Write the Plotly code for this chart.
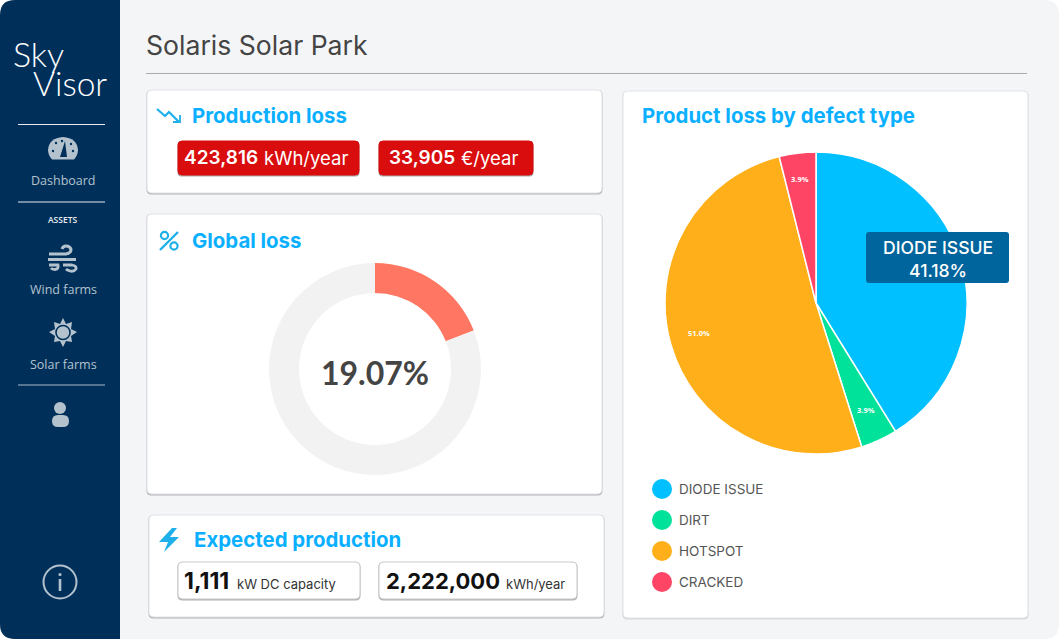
import plotly.graph_objects as go

W, H = 1059, 639

defect_types = ["DIODE ISSUE", "DIRT", "HOTSPOT", "CRACKED"]
defect_values = [41.18, 3.92, 50.98, 3.92]
defect_colors = ["#00c0ff", "#00e19a", "#ffaf19", "#ff4565"]

global_loss = 19.07
loss_colors = ["#ff7762", "#f2f2f2"]

loss_kwh = "423,816"
loss_eur = "33,905"
capacity_kw = "1,111"
expected_kwh = "2,222,000"

NAVY = "#00305a"
ICON = "#b4c2ce"
BLUE = "#0ab0ff"
ICON_BLUE = "#1fb0ea"
UI = "Inter"

shapes = []
notes = []


def rrect_path(x0, y0, x1, y1, r):
    return (f"M{x0+r},{y0} L{x1-r},{y0} Q{x1},{y0} {x1},{y0+r} L{x1},{y1-r} Q{x1},{y1} {x1-r},{y1} "
            f"L{x0+r},{y1} Q{x0},{y1} {x0},{y1-r} L{x0},{y0+r} Q{x0},{y0} {x0+r},{y0} Z")


def path(d, fill=None, line=None, lw=0, layer="above"):
    shapes.append(dict(type="path", path=d, xref="x", yref="y", layer=layer,
                       fillcolor=fill or "rgba(0,0,0,0)",
                       line=dict(color=line or "rgba(0,0,0,0)", width=lw)))


def circle(cx, cy, r, fill=None, line=None, lw=0):
    shapes.append(dict(type="circle", xref="x", yref="y", x0=cx-r, x1=cx+r, y0=cy-r, y1=cy+r, layer="above",
                       fillcolor=fill or "rgba(0,0,0,0)",
                       line=dict(color=line or "rgba(0,0,0,0)", width=lw)))


def text(x, y, s, size, color="#444444", anchor="left", family=UI, weight=400):
    # annotations carry about 2px of padding, taken off here for left aligned text
    if anchor == "left":
        x -= 2
    notes.append(dict(x=x, y=y, xref="x", yref="y", text=s, showarrow=False, xanchor=anchor, yanchor="middle",
                      align="center", font=dict(family=family, size=size, color=color, weight=weight)))


def card(x0, y0, x1, y1, r=5, fill="white", border="#e2e3e6", shadow="#b3b5b8", layer="below"):
    path(rrect_path(x0-0.5, y0, x1+0.5, y1+1.5, r), fill=shadow, layer=layer)
    path(rrect_path(x0, y0, x1, y1, r), fill=fill, line=border, lw=1, layer=layer)


# page background and sidebar
path(rrect_path(0, 0, W, H, 15), fill="#f4f5f7", layer="below")
path(f"M15,0 L120,0 L120,{H} L15,{H} Q0,{H} 0,{H-15} L0,15 Q0,0 15,0 Z", fill=NAVY, layer="below")

# header
text(146, 44.5, "Solaris Solar Park", 26.6, "#444444")
path("M146,73.5 L1027,73.5", line="#a9abad", lw=1)

# cards
card(147, 90, 602, 193)
card(147, 214, 602, 494)
card(149, 515, 604, 617)
card(623, 91, 1028, 618, shadow="#d5d6d8")

# card headings
text(192, 115, "Production loss", 20.4, BLUE, weight=700)
text(192, 240, "Global loss", 20.4, BLUE, weight=700)
text(194, 539, "Expected production", 20.4, BLUE, weight=700)
text(642, 115, "Product loss by defect type", 20.4, BLUE, weight=700)

# red badges
card(178, 141, 359, 175, r=4, fill="#d90d0d", border="#d90d0d", shadow="#a9a9a9")
card(379, 141, 533, 175, r=4, fill="#d90d0d", border="#d90d0d", shadow="#a9a9a9")
text(184, 157.5, loss_kwh, 19, "white", weight=600)
text(264, 157.5, "kWh/year", 18.5, "white")
text(389, 157.5, loss_eur, 19, "white", weight=600)
text(461, 157.5, "€/year", 18.5, "white")

# white badges
card(178, 562, 360, 599, r=5, border="#c9cacc", shadow="#b0b1b3")
card(379, 562, 577, 599, r=5, border="#c9cacc", shadow="#b0b1b3")
text(184, 580.5, capacity_kw, 23, "#111111", weight=700)
text(237, 583.5, "kW DC capacity", 13, "#333333")
text(386, 580.5, expected_kwh, 22, "#111111", weight=700)
text(506, 583.5, "kWh/year", 13, "#333333")

# card icons
path("M157,109 L165,116 L169,112 L179,122", line=ICON_BLUE, lw=2.2)
path("M173,122 L180,122 L180,115", line=ICON_BLUE, lw=1.8)
path("M160,250 L178,232", line=ICON_BLUE, lw=2.4)
circle(164.5, 235.5, 3.6, line=ICON_BLUE, lw=2.2)
circle(174, 246, 3.6, line=ICON_BLUE, lw=2.2)
path("M172,528 L159,542 L168,542 L164,552 L179,537 L170,537 L177,528 Z", fill=ICON_BLUE)

# logo
text(13, 53, "Sky", 34, "white", family="Lato", weight=300)
text(33, 83, "Visor", 33.5, "white", family="Lato", weight=300)

# sidebar rules and labels
path("M18,124.5 L105,124.5", line="#e6ebef", lw=1)
path("M18,202 L105,202", line="#e6ebef", lw=1)
path("M18,385 L105,385", line="#a9b8c5", lw=1.2)
text(63, 180, "Dashboard", 12.5, ICON, "center", "Open Sans")
text(63, 219, "ASSETS", 8.5, "#e8edf1", "center", "Open Sans", 600)
text(63, 289, "Wind farms", 12.5, ICON, "center", "Open Sans")
text(63, 364, "Solar farms", 12.5, ICON, "center", "Open Sans")

# sidebar icons
path("M52,159.5 Q48,155 48,150 Q49,138 63,137 Q77,138 78,150 Q78,155 74,159.5 Z", fill=ICON)
path("M60,157 L65,141 L67,157 Z", fill=NAVY)
for cx, cy in [(53, 151), (56, 143), (73, 151), (71, 144), (62, 141)]:
    circle(cx, cy, 1.2, fill=NAVY)
path("M49,254 L66,254 Q71,253 71,249.5 Q70,246 66,246 Q63,246 62,249", line=ICON, lw=3)
path("M48,259.5 L76,259.5", line=ICON, lw=3)
path("M49,265 L58,265 Q59,269 55,269.5 Q52,269.5 51,268", line=ICON, lw=2.8)
path("M63,265 L72,265 Q77,266 76,269 Q74,272 70,271 Q67,270 66,269", line=ICON, lw=2.8)
path("M63,318 L66,324 L72,322 L71,329 L77,332 L71,336 L72,342 L66,341 L63,347 L60,341 L54,342 L55,336 L49,332 "
     "L55,329 L54,322 L60,324 Z", fill=ICON)
circle(63, 332.5, 7, fill=ICON, line=NAVY, lw=1.6)
circle(60, 408, 6, fill=ICON)
path(rrect_path(52, 415, 69, 427, 6), fill=ICON)
circle(60, 582, 16.5, line=ICON, lw=2)
circle(60, 574.5, 1.6, fill=ICON)
path("M60,579 L60,591", line=ICON, lw=2.6)

# tooltip over the diode slice
path(rrect_path(866, 232, 1009, 283, 3), fill="#00659c")
text(937.5, 258.5, f"{defect_types[0]}<br>{defect_values[0]:.2f}%", 17.6, "white", "center", weight=500)

# slice labels sit where the original has them, not where plotly would put them
label_x = [None, 866, 699, 800]
label_y = [None, 410, 333, 179]
for value, x, y in zip(defect_values, label_x, label_y):
    if x is not None:
        text(x, y, f"{value:.1f}%", 7.5, "white", "center", "Open Sans", 700)

# legend labels
legend_y = [489, 520, 551, 582]
for name, y in zip(defect_types, legend_y):
    text(679, y, name, 13.5, "#555555")

# donut centre
text(375, 372, f"{global_loss:.2f}%", 32, "#444444", "center", "Lato", 700)


def domain(cx, cy, r):
    return dict(x=[(cx-r)/W, (cx+r)/W], y=[1-(cy+r)/H, 1-(cy-r)/H])


fig = go.Figure()

fig.add_trace(go.Scatter(x=[662]*4, y=legend_y, mode="markers", hoverinfo="skip", showlegend=False,
                         marker=dict(size=20, color=defect_colors, line=dict(width=0))))

fig.add_trace(go.Pie(values=[global_loss, 100-global_loss], hole=76/106, sort=False, direction="clockwise",
                     rotation=0, textinfo="none", marker=dict(colors=loss_colors, line=dict(width=0)),
                     domain=domain(375, 369, 106), showlegend=False))

fig.add_trace(go.Pie(labels=defect_types, values=defect_values, sort=False, direction="clockwise", rotation=0,
                     textinfo="none",
                     marker=dict(colors=defect_colors, line=dict(color="white", width=1.5)),
                     domain=domain(816, 303, 151), showlegend=False))

fig.update_layout(width=W, height=H, margin=dict(l=0, r=0, t=0, b=0), autosize=False,
                  paper_bgcolor="white", plot_bgcolor="rgba(0,0,0,0)", showlegend=False,
                  xaxis=dict(range=[0, W], visible=False, fixedrange=True),
                  yaxis=dict(range=[H, 0], visible=False, fixedrange=True),
                  shapes=shapes, annotations=notes)

fig.write_html("out.html", config={"displayModeBar": False},
               post_script="document.body.style.margin='0';")
